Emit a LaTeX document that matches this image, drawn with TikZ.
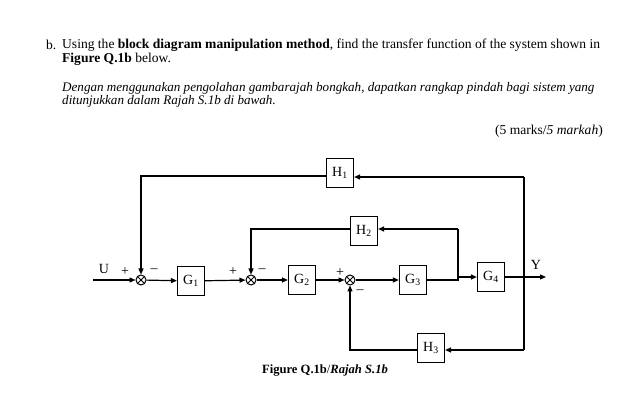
\documentclass[tikz,border=0pt]{standalone}
\usepackage{fontspec}
\setmainfont{Liberation Serif}
\usetikzlibrary{arrows.meta}
\begin{document}
\begin{tikzpicture}[x=1pt,y=-1pt,
  blk/.style={draw,line width=1.2pt,minimum width=27pt,minimum height=29pt,inner sep=0pt,font=\fontsize{14}{14}\selectfont},
  sumj/.style={draw,circle,line width=1pt,minimum size=10pt,inner sep=0pt,path picture={\draw[line width=0.8pt] (path picture bounding box.north west)--(path picture bounding box.south east) (path picture bounding box.north east)--(path picture bounding box.south west);}},
  ln/.style={line width=1.2pt},
  ar/.style={line width=1.2pt,-{Triangle[length=6pt,width=5pt]}},
  txt/.style={font=\fontsize{13.55}{15}\selectfont,inner sep=0pt,anchor=west},
  sg/.style={font=\fontsize{14}{14}\selectfont,inner sep=0pt}]
\useasboundingbox (0,0) rectangle (635,411);
\node[txt] (b) at (46,45) {b.};
\node[txt] (l1) at (62,45) {Using the \textbf{block diagram manipulation method}, find the transfer function of the system shown in};
\node[txt] (l2) at (62,59) {\textbf{Figure Q.1b} below.};
\node[txt,font=\fontsize{13.1}{15}\selectfont] (l3) at (62,88) {\itshape Dengan menggunakan pengolahan gambarajah bongkah, dapatkan rangkap pindah bagi sistem yang};
\node[txt,font=\fontsize{13.1}{15}\selectfont] (l4) at (62,101) {\itshape ditunjukkan dalam Rajah S.1b di bawah.};
\node[txt,anchor=east] (mk) at (603,131) {(5 marks/\textit{5 markah})};

\coordinate (in) at (93,280);
\node[sumj] (s1) at (141,280) {};
\node[blk] (g1) at (191,281) {G\textsubscript{1}};
\node[sumj] (s2) at (251,280) {};
\node[blk] (g2) at (302,280) {G\textsubscript{2}};
\node[sumj] (s3) at (350,280) {};
\node[blk] (g3) at (413,280) {G\textsubscript{3}};
\node[blk] (g4) at (491,277) {G\textsubscript{4}};
\coordinate (p2) at (458,280);
\coordinate (out) at (546,277);
\node[blk] (h1) at (340,173) {H\textsubscript{1}};
\node[blk] (h2) at (364,231) {H\textsubscript{2}};
\node[blk] (h3) at (431,348) {H\textsubscript{3}};

\draw[ar] (in) -- (s1);
\draw[ar] (s1) -- (g1);
\draw[ar] (g1) -- (s2);
\draw[ar] (s2) -- (g2);
\draw[ar] (g2) -- (s3);
\draw[ar] (s3) -- (g3);
\draw[ar] (g3.east) -- (p2) |- (g4.west);
\draw[ar] (g4) -- (out);
\coordinate (t1) at (524,177);
\coordinate (t3) at (524,350);
\draw[ln] (t1) -- (t3);
\draw[ar] (t1) -- (h1.east |- t1);
\draw[ar] (h1.west |- 0,176) -| (s1.north);
\coordinate (t2) at (458,229);
\draw[ln] (p2) -- (t2);
\draw[ar] (t2) -- (h2.east |- t2);
\draw[ar] (h2.west |- 0,229) -| (s2.north);
\draw[ar] (t3) -- (h3.east |- t3);
\draw[ar] (h3.west |- 0,350) -| (s3.south);

\node[sg] (u) at (104,269) {U};
\node[sg] (y) at (536,265) {Y};
\node[sg] (pa) at (125,272) {+};
\node[sg] (ma) at (154,271) {\textendash};
\node[sg] (pb) at (233,272) {+};
\node[sg] (mb) at (262,271) {\textendash};
\node[sg] (pc) at (340,273) {+};
\node[sg] (mc) at (360,292) {\textendash};
\node[font=\fontsize{12.6}{12.6}\selectfont,inner sep=0pt] (cap) at (325,371) {\textbf{Figure Q.1b}/\textbf{\textit{Rajah S.1b}}};
\end{tikzpicture}
\end{document}
